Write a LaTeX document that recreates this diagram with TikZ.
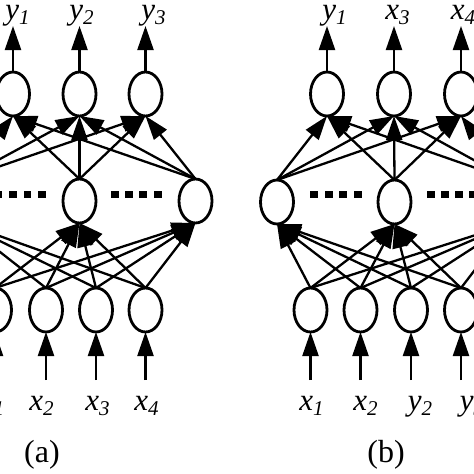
\documentclass[tikz,border=0pt]{standalone}
\usepackage{fontspec}
\setmainfont{Liberation Serif}
\usetikzlibrary{shapes.geometric,arrows.meta}
\newcommand{\nnlab}[2]{#1\raisebox{-5pt}{\fontsize{21}{21}\selectfont #2}}
\begin{document}
\begin{tikzpicture}[x=1pt,y=-1pt,
  neuron/.style={draw,ellipse,line width=2.8pt,minimum width=33pt,minimum height=44pt,inner sep=0pt,outer sep=0pt,fill=white},
  arr/.style={line width=2.3pt,-{Triangle[length=24pt,width=16pt]}},
  lbl/.style={inner sep=0pt,anchor=base,font=\fontsize{31}{31}\selectfont\itshape},
  captionlbl/.style={inner sep=0pt,anchor=base,font=\fontsize{32}{32}\selectfont},
  dotsq/.style={fill=black,minimum size=7.5pt,inner sep=0pt,rectangle}
]
\useasboundingbox (0,0) rectangle (474,474);
\clip (0,0) rectangle (474,474);

% ---------- network (a) ----------
\node[neuron] (a-o1) at (13,94) {};
\node[neuron] (a-o2) at (79.5,94) {};
\node[neuron] (a-o3) at (145.5,94) {};
\node[neuron] (a-h1) at (-37,201) {};
\node[neuron] (a-h2) at (79.5,201) {};
\node[neuron] (a-h3) at (195.5,201) {};
\node[neuron] (a-i1) at (-5,310) {};
\node[neuron] (a-i2) at (46,310) {};
\node[neuron] (a-i3) at (96,310) {};
\node[neuron] (a-i4) at (145.5,310) {};

\foreach \h in {1,2,3}{\foreach \o in {1,2,3}{\draw[arr] (a-h\h.north) -- (a-o\o.south);}}
\foreach \i in {1,2,3,4}{\foreach \h in {1,2,3}{\draw[arr] (a-i\i.north) -- (a-h\h.south);}}

\foreach \k/\x in {1/13,2/79.5,3/145.5}{
  \coordinate (a-to\k) at (\x,26);
  \draw[arr] (a-o\k.north) -- (a-to\k);}
\foreach \k/\x in {1/-5,2/46,3/96,4/145.5}{
  \coordinate (a-ti\k) at (\x,380);
  \draw[arr] (a-ti\k) -- (a-i\k.south);}

\foreach \x in {-1.5,13,27.5,42,115,129,143,158}{\node[dotsq] at (\x,194.5) {};}

\node[lbl] (a-lo1) at (17.5,19) {\nnlab{y}{1}};
\node[lbl] (a-lo2) at (81.5,19) {\nnlab{y}{2}};
\node[lbl] (a-lo3) at (153.5,19) {\nnlab{y}{3}};
\node[lbl] (a-li1) at (-8,410) {\nnlab{x}{1}};
\node[lbl] (a-li2) at (41.5,410) {\nnlab{x}{2}};
\node[lbl] (a-li3) at (97.5,410) {\nnlab{x}{3}};
\node[lbl] (a-li4) at (146.5,410) {\nnlab{x}{4}};
\node[captionlbl] (a-cap) at (42,462) {(a)};

% ---------- network (b) ----------
\node[neuron] (b-o1) at (327,94) {};
\node[neuron] (b-o2) at (394,94) {};
\node[neuron] (b-o3) at (461,94) {};
\node[neuron] (b-h1) at (277,202) {};
\node[neuron] (b-h2) at (394.5,202) {};
\node[neuron] (b-h3) at (510,202) {};
\node[neuron] (b-i1) at (310.5,310) {};
\node[neuron] (b-i2) at (360.5,310) {};
\node[neuron] (b-i3) at (411,310) {};
\node[neuron] (b-i4) at (461,310) {};

\foreach \h in {1,2,3}{\foreach \o in {1,2,3}{\draw[arr] (b-h\h.north) -- (b-o\o.south);}}
\foreach \i in {1,2,3,4}{\foreach \h in {1,2,3}{\draw[arr] (b-i\i.north) -- (b-h\h.south);}}

\foreach \k/\x in {1/327,2/394,3/461}{
  \coordinate (b-to\k) at (\x,26);
  \draw[arr] (b-o\k.north) -- (b-to\k);}
\foreach \k/\x in {1/310.5,2/360.5,3/411,4/461}{
  \coordinate (b-ti\k) at (\x,380);
  \draw[arr] (b-ti\k) -- (b-i\k.south);}

\foreach \x in {314,329,343,358,431,445,459,473}{\node[dotsq] at (\x,194.5) {};}

\node[lbl] (b-lo1) at (334.5,19) {\nnlab{y}{1}};
\node[lbl] (b-lo2) at (397.5,19) {\nnlab{x}{3}};
\node[lbl] (b-lo3) at (463,19) {\nnlab{x}{4}};
\node[lbl] (b-li1) at (311.5,410) {\nnlab{x}{1}};
\node[lbl] (b-li2) at (365.5,410) {\nnlab{x}{2}};
\node[lbl] (b-li3) at (420,410) {\nnlab{y}{2}};
\node[lbl] (b-li4) at (472,410) {\nnlab{y}{3}};
\node[captionlbl] (b-cap) at (386,462) {(b)};
\end{tikzpicture}
\end{document}
